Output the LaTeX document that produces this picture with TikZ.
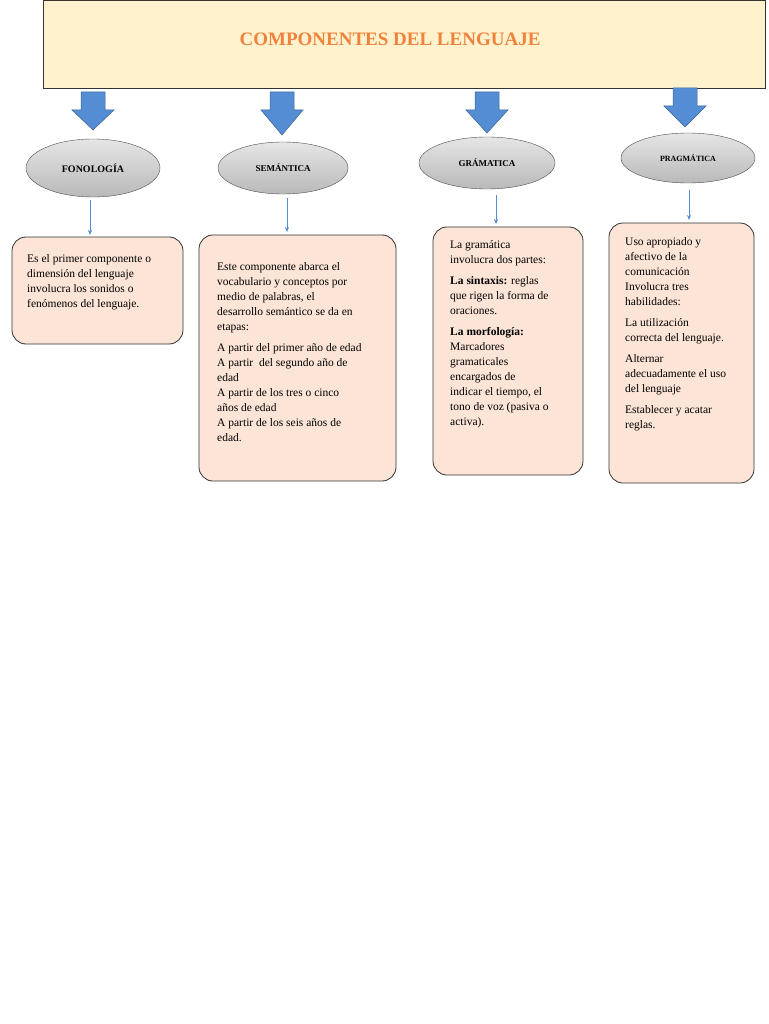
\documentclass[tikz,border=0pt]{standalone}
\usepackage{fontspec}
\setmainfont{Liberation Serif}
\usetikzlibrary{shapes.geometric,arrows.meta}
\definecolor{titlefill}{RGB}{255,242,204}
\definecolor{boxfill}{RGB}{252,228,214}
\definecolor{arrowblue}{RGB}{84,141,212}
\definecolor{orng}{RGB}{240,130,60}
\tikzset{
 comp/.style={ellipse,draw=black!70,shade,top color=gray!20,bottom color=gray!55,inner sep=0pt,font=\bfseries\fontsize{10}{12}\selectfont},
 infobox/.style={draw=black!80,fill=boxfill,rounded corners=14pt,line width=0.8pt},
 txt/.style={anchor=north west,align=left,inner sep=0pt,font=\fontsize{11.5}{15}\selectfont},
 thin/.style={draw=arrowblue,-{Stealth[length=5pt,width=4pt]},line width=0.6pt},
 big/.style={fill=arrowblue,draw=arrowblue!70!black,line width=0.5pt}
}
\begin{document}
\begin{tikzpicture}[x=1pt,y=-1pt]
\useasboundingbox (0,0) rectangle (768,1024);
\fill[white] (0,0) rectangle (768,1024);
\node[draw=black!80,fill=titlefill,minimum width=722pt,minimum height=88pt,anchor=north west,line width=0.8pt] (title) at (43,0) {};
\node[text=orng,font=\bfseries\fontsize{19}{22}\selectfont] at (390,39) {COMPONENTES DEL LENGUAJE};
% big arrows
\foreach \cx/\ty/\by in {93/92/130,282/92/135,487/92/133,685/88/127}{
 \draw[big] (\cx-12,\ty) -- (\cx+12,\ty) -- (\cx+12,\ty+18) -- (\cx+21,\ty+18) -- (\cx,\by) -- (\cx-21,\ty+18) -- (\cx-12,\ty+18) -- cycle;
}
\node[comp,minimum width=134pt,minimum height=58pt] (e1) at (93,168) {FONOLOGÍA};
\node[comp,minimum width=130pt,minimum height=52pt,font=\bfseries\fontsize{9}{11}\selectfont] (e2) at (283,168) {SEMÁNTICA};
\node[comp,minimum width=136pt,minimum height=52pt,font=\bfseries\fontsize{9}{11}\selectfont] (e3) at (487,163) {GRÁMATICA};
\node[comp,minimum width=134pt,minimum height=50pt,font=\bfseries\fontsize{8}{10}\selectfont] (e4) at (688,158) {PRAGMÁTICA};
% boxes
\draw[infobox] (12,237) rectangle (183,344);
\draw[infobox] (199,235) rectangle (396,481);
\draw[infobox] (433,227) rectangle (583,475);
\draw[infobox] (609,223) rectangle (754,483);
\coordinate (b1) at (90,235); \coordinate (b2) at (287,232);
\coordinate (b3) at (496,224); \coordinate (b4) at (689,220);
\coordinate (a1) at (90,200); \coordinate (a2) at (287,198);
\coordinate (a3) at (496,195); \coordinate (a4) at (689,190);
\foreach \i in {1,2,3,4}{\draw[thin] (a\i) -- (b\i);}
\node[txt] (t1) at (27,254) {Es el primer componente o\\dimensión del lenguaje\\involucra los sonidos o\\fenómenos del lenguaje.};
\node[txt] (t2) at (217,262) {Este componente abarca el\\vocabulario y conceptos por\\medio de palabras, el\\desarrollo semántico se da en\\etapas:\\[6pt]A partir del primer año de edad\\A partir ~del segundo año de\\edad\\A partir de los tres o cinco\\años de edad\\A partir de los seis años de\\edad.};
\node[txt] (t3) at (450,240) {La gramática\\involucra dos partes:\\[6pt]\textbf{La sintaxis:} reglas\\que rigen la forma de\\oraciones.\\[6pt]\textbf{La morfología:}\\Marcadores\\gramaticales\\encargados de\\indicar el tiempo, el\\tono de voz (pasiva o\\activa).};
\node[txt] (t4) at (625,237) {Uso apropiado y\\afectivo de la\\comunicación\\Involucra tres\\habilidades:\\[6pt]La utilización\\correcta del lenguaje.\\[6pt]Alternar\\adecuadamente el uso\\del lenguaje\\[6pt]Establecer y acatar\\reglas.};
\end{tikzpicture}
\end{document}
